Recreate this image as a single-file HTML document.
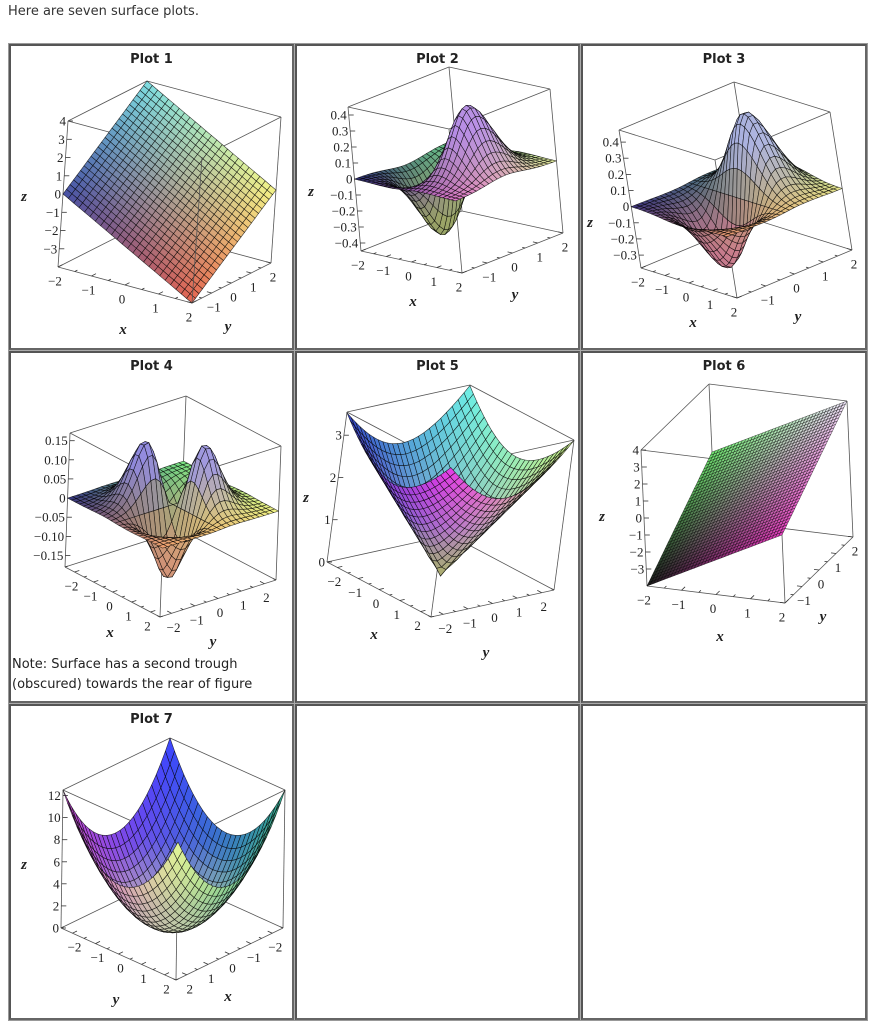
<!DOCTYPE html>
<html><head><meta charset="utf-8"><style>
html,body{margin:0;padding:0;background:#fff;width:886px;height:1024px;overflow:hidden}
#intro{position:absolute;left:8px;top:4px;font:13px "DejaVu Sans","Liberation Sans",sans-serif;color:#333}
.cell{position:absolute;box-sizing:border-box;border:2px solid #666;border-top-color:#555;border-left-color:#555;background:#fff}
#frame{position:absolute;left:8px;top:43px;width:860px;height:978px;box-sizing:border-box;border:1px solid #999;background:#aaa}
.title{position:absolute;width:100%;text-align:center;top:6px;font:bold 13px "DejaVu Sans","Liberation Sans",sans-serif;color:#222}
#note{position:absolute;left:12px;top:655px;font:13px "DejaVu Sans","Liberation Sans",sans-serif;color:#222;line-height:20px}
svg{position:absolute;left:0;top:0}
</style></head><body>
<div id="intro">Here are seven surface plots.</div>
<div id="frame"></div>
<div class="cell" style="left:9px;top:44px;width:285px;height:306px"><div class="title">Plot 1</div></div>
<div class="cell" style="left:295px;top:44px;width:285px;height:306px"><div class="title">Plot 2</div></div>
<div class="cell" style="left:581px;top:44px;width:286px;height:306px"><div class="title">Plot 3</div></div>
<div class="cell" style="left:9px;top:351px;width:285px;height:352px"><div class="title">Plot 4</div></div>
<div class="cell" style="left:295px;top:351px;width:285px;height:352px"><div class="title">Plot 5</div></div>
<div class="cell" style="left:581px;top:351px;width:286px;height:352px"><div class="title">Plot 6</div></div>
<div class="cell" style="left:9px;top:704px;width:285px;height:316px"><div class="title">Plot 7</div></div>
<div class="cell" style="left:295px;top:704px;width:285px;height:316px"></div>
<div class="cell" style="left:581px;top:704px;width:286px;height:316px"></div>
<div id="note">Note: Surface has a second trough<br>(obscured) towards the rear of figure</div>
<svg id="chart" width="886" height="1024" xmlns="http://www.w3.org/2000/svg"></svg>
<script>
// ---- tick data ----
const p1ZTicks=[4,3,2,1,0,-1,-2,-3];
const p1ZLabels=["4","3","2","1","0","−1","−2","−3"];
const p2ZTicks=[0.4,0.3,0.2,0.1,0,-0.1,-0.2,-0.3,-0.4];
const p2ZLabels=["0.4","0.3","0.2","0.1","0","−0.1","−0.2","−0.3","−0.4"];
const p3ZTicks=[0.4,0.3,0.2,0.1,0,-0.1,-0.2,-0.3];
const p3ZLabels=["0.4","0.3","0.2","0.1","0","−0.1","−0.2","−0.3"];
const p4ZTicks=[0.15,0.10,0.05,0,-0.05,-0.10,-0.15];
const p4ZLabels=["0.15","0.10","0.05","0","−0.05","−0.10","−0.15"];
const p5ZTicks=[0,1,2,3];
const p5ZLabels=["0","1","2","3"];
const p6ZTicks=[4,3,2,1,0,-1,-2,-3];
const p6ZLabels=["4","3","2","1","0","−1","−2","−3"];
const p7ZTicks=[0,2,4,6,8,10,12];
const p7ZLabels=["0","2","4","6","8","10","12"];
const fullTicks=[-2,-1,0,1,2];
const fullLabels=["−2","−1","0","1","2"];
const partTicks=[-1,0,1,2];
const partLabels=["−1","0","1","2"];

const svg=document.getElementById('chart');
const NS='http://www.w3.org/2000/svg';
function mk(tag,attrs,parent){const e=document.createElementNS(NS,tag);for(const k in attrs)e.setAttribute(k,attrs[k]);(parent||svg).appendChild(e);return e;}
function mix(a,b,t){return [a[0]+(b[0]-a[0])*t,a[1]+(b[1]-a[1])*t,a[2]+(b[2]-a[2])*t];}
function clamp(t){return Math.max(0,Math.min(1,t));}

const plots=[
 {n:1,xr:[-2,2],yr:[-2,2],zr:[-4,4],c0:[58,267],cx:[192,303],cy:[137,227],cz:[68,121],grid:24,
  f:(x,y)=>y-x,
  cols:[[70,80,165],[230,100,80],[125,220,225],[245,245,135]],tint:null,
  zT:p1ZTicks,zL:p1ZLabels,xT:fullTicks,xL:fullLabels,yT:partTicks,yL:partLabels,
  titles:{x:[123,330],y:[228,327],z:[24,197]},frontEdge:true},
 {n:2,xr:[-2,2],yr:[-2,2],zr:[-0.45,0.45],c0:[361,251],cx:[462,273],cy:[462,211],cz:[348,107],grid:24,
  f:(x,y)=>x*Math.exp(-x*x-y*y),
  cols:[[40,40,110],[225,120,205],[110,215,140],[220,230,150]],
  tint:(z)=>z>0?[[185,140,250],clamp(z/0.3)*0.75]:[[165,175,85],clamp(-z/0.3)*0.7],
  zT:p2ZTicks,zL:p2ZLabels,xT:fullTicks,xL:fullLabels,yT:partTicks,yL:partLabels,
  titles:{x:[413,302],y:[515,295],z:[311,192]}},
 {n:3,xr:[-2,2],yr:[-2,2],zr:[-0.38,0.475],c0:[641,268],cx:[737,298],cy:[756,220],cz:[619,130],grid:24,
  f:(x,y)=>y*Math.exp(-x*x-y*y)*(1+0.15*y),
  cols:[[60,50,125],[230,150,110],[80,140,120],[230,230,140]],
  tint:(z)=>z>0?[[175,185,255],clamp(z/0.3)*0.75]:[[215,120,150],clamp(-z/0.25)*0.7],
  zT:p3ZTicks,zL:p3ZLabels,xT:fullTicks,xL:fullLabels,yT:partTicks,yL:partLabels,
  titles:{x:[693,323],y:[798,317],z:[590,223]}},
 {n:4,xr:[-2.5,2.5],yr:[-2.5,2.5],zr:[-0.18,0.17],c0:[65,567],cx:[160,617],cy:[181,530],cz:[70,433],grid:24,
  f:(x,y)=>0.88*x*y*Math.exp(-x*x-y*y),
  cols:[[50,50,125],[240,160,110],[120,230,130],[240,240,130]],
  tint:(z)=>z>0?[[150,140,255],clamp(z/0.12)*0.75]:[[225,140,120],clamp(-z/0.12)*0.6],
  zT:p4ZTicks,zL:p4ZLabels,xT:fullTicks,xL:fullLabels,yT:fullTicks,yL:fullLabels,
  titles:{x:[110,633],y:[213,642]}},
 {n:5,xr:[-2.5,2.5],yr:[-2.5,2.5],zr:[0,3.55],c0:[327,562],cx:[431,617],cy:[450,535],cz:[347,412],grid:24,
  f:(x,y)=>Math.sqrt(x*x+y*y),
  cols:[[50,70,200],[230,60,230],[110,240,230],[200,240,130]],
  tint:(z)=>[[185,185,70],clamp(1-z/1.6)*0.7],
  zT:p5ZTicks,zL:p5ZLabels,xT:fullTicks,xL:fullLabels,yT:fullTicks,yL:fullLabels,
  titles:{x:[374,635],y:[486,653],z:[306,498]}},
 {n:6,xr:[-2,2],yr:[-2,2],zr:[-4,4],c0:[647,586],cx:[785,603],cy:[715,520],cz:[641,450],grid:40,
  f:(x,y)=>x+y,
  cols:[[25,25,25],[230,60,190],[110,230,110],[235,225,245]],tint:null,
  zT:p6ZTicks,zL:p6ZLabels,xT:fullTicks,xL:fullLabels,yT:partTicks,yL:partLabels,
  titles:{x:[720,637],y:[823,617],z:[602,517]}},
 {n:7,xr:[-2.5,2.5],yr:[-2.5,2.5],zr:[0,12.5],c0:[168,876],cx:[61,928],cy:[283,928],cz:[170,738],grid:24,
  f:(x,y)=>x*x+y*y,
  cols:[[60,70,255],[200,70,210],[50,170,140],[225,245,150]],
  tint:(z)=>[[235,240,165],clamp(1-z/5)*0.6],
  zT:p7ZTicks,zL:p7ZLabels,xT:fullTicks,xL:fullLabels,yT:fullTicks,yL:fullLabels,
  titles:{x:[228,997],y:[116,1000],z:[24,865]},alt:true}
];

function proj(p,x,y,z){
  const u=(x-p.xr[0])/(p.xr[1]-p.xr[0]),v=(y-p.yr[0])/(p.yr[1]-p.yr[0]),w=(z-p.zr[0])/(p.zr[1]-p.zr[0]);
  return [p.c0[0]+u*(p.cx[0]-p.c0[0])+v*(p.cy[0]-p.c0[0])+w*(p.cz[0]-p.c0[0]),
          p.c0[1]+u*(p.cx[1]-p.c0[1])+v*(p.cy[1]-p.c0[1])+w*(p.cz[1]-p.c0[1])];
}
function colorAt(p,x,y,z){
  const u=clamp((x-p.xr[0])/(p.xr[1]-p.xr[0])),v=clamp((y-p.yr[0])/(p.yr[1]-p.yr[0]));
  let c=mix(mix(p.cols[0],p.cols[1],u),mix(p.cols[2],p.cols[3],u),v);
  if(p.tint){const t=p.tint(z);c=mix(c,t[0],t[1]);}
  return 'rgb('+c.map(a=>Math.round(a)).join(',')+')';
}
function line(g,a,b,st,w,name){
  const l=mk('line',{x1:a[0].toFixed(1),y1:a[1].toFixed(1),x2:b[0].toFixed(1),y2:b[1].toFixed(1),stroke:st,'stroke-width':w},g);
  
  
  return l;
}
function txt(g,x,y,s,anchor,cls,name){
  const t=mk('text',{x:x.toFixed(1),y:y.toFixed(1),'text-anchor':anchor,'dominant-baseline':'central'},g);
  if(cls==='title'){t.setAttribute('font-family','"Liberation Serif",serif');t.setAttribute('font-style','italic');t.setAttribute('font-weight','bold');t.setAttribute('font-size','15');}
  else{t.setAttribute('font-family','"Liberation Serif",serif');t.setAttribute('font-size','13');}
  t.setAttribute('fill','#222');
  t.textContent=s;
  
  
  return t;
}
function unit(a,b){const dx=b[0]-a[0],dy=b[1]-a[1],L=Math.hypot(dx,dy)||1;return [dx/L,dy/L];}

plots.forEach(p=>{
  const g=mk('g',{});
  
  
  const [x0,x1]=p.xr,[y0,y1]=p.yr,[z0,z1]=p.zr;
  const corners=[];
  for(const z of [z0,z1])for(const y of [y0,y1])for(const x of [x0,x1])corners.push([x,y,z]);
  const edges=[[0,1],[2,3],[4,5],[6,7],[0,2],[1,3],[4,6],[5,7],[0,4],[1,5],[2,6],[3,7]];
  edges.forEach(e=>{const a=corners[e[0]],b=corners[e[1]];
    line(g,proj(p,...a),proj(p,...b),'#555',0.8,'box-edge');});
  const zx=p.alt?x1:x0, zy=y0;
  const xAxisY=p.alt?y1:y0, yAxisX=x1;
  const xdir=unit(proj(p,0,y0,z0),proj(p,0,y1,z0));
  const ydir=unit(proj(p,x0,0,z0),proj(p,x1,0,z0));
  const xs=xAxisY===y0?1:-1;
  const ticksG=mk('g',{},g);
  
  
  for(let t=-2.5;t<=2.5+1e-9;t+=0.5){
    if(t<x0-1e-9||t>x1+1e-9)continue;
    const major=Math.abs(t-Math.round(t))<1e-9;const len=major?5:3;
    const a=proj(p,t,xAxisY,z0);line(ticksG,a,[a[0]+xs*xdir[0]*len,a[1]+xs*xdir[1]*len],'#333',0.8,'x-tick');
    const b=proj(p,yAxisX,t,z0);line(ticksG,b,[b[0]-ydir[0]*len,b[1]-ydir[1]*len],'#333',0.8,'y-tick');
  }
  p.xT.forEach((t,i)=>{const a=proj(p,t,xAxisY,z0);txt(g,a[0]+(p.alt?3:-3),a[1]+14,p.xL[i],'middle','tick','x-tick-label');});
  p.yT.forEach((t,i)=>{const a=proj(p,yAxisX,t,z0);txt(g,a[0]+2,a[1]+14,p.yL[i],'middle','tick','y-tick-label');});
  p.zT.forEach((t,i)=>{const a=proj(p,zx,zy,t);
    line(ticksG,a,[a[0]+5,a[1]],'#333',0.8,'z-tick');
    txt(g,a[0]-2,a[1],p.zL[i],'end','tick','z-tick-label');});
  const N=p.grid,quads=[];
  for(let i=0;i<N;i++)for(let j=0;j<N;j++){
    const xa=x0+(x1-x0)*i/N,xb=x0+(x1-x0)*(i+1)/N,ya=y0+(y1-y0)*j/N,yb=y0+(y1-y0)*(j+1)/N;
    const pts=[[xa,ya],[xb,ya],[xb,yb],[xa,yb]].map(q=>proj(p,q[0],q[1],p.f(q[0],q[1])));
    const xm=(xa+xb)/2,ym=(ya+yb)/2,zm=p.f(xm,ym);
    quads.push({pts,depth:proj(p,xm,ym,z0)[1],col:colorAt(p,xm,ym,zm)});
  }
  quads.sort((a,b)=>a.depth-b.depth);
  const sg=mk('g',{},g);
  
  
  quads.forEach(q=>{
    const poly=mk('polygon',{points:q.pts.map(a=>a[0].toFixed(1)+','+a[1].toFixed(1)).join(' '),fill:q.col,stroke:'rgba(0,0,0,0.75)','stroke-width':p.grid>30?0.45:0.6,'stroke-linejoin':'round'},sg);
    
    
  });
  if(p.frontEdge){line(g,proj(p,x1,y0,z0),proj(p,x1,y0,z1),'#555',0.8,'front-edge');}
  ['x','y','z'].forEach(k=>{if(p.titles[k]){txt(g,p.titles[k][0],p.titles[k][1],k,'middle','title',k+'-axis-title');}});
});
</script>
</body></html>
